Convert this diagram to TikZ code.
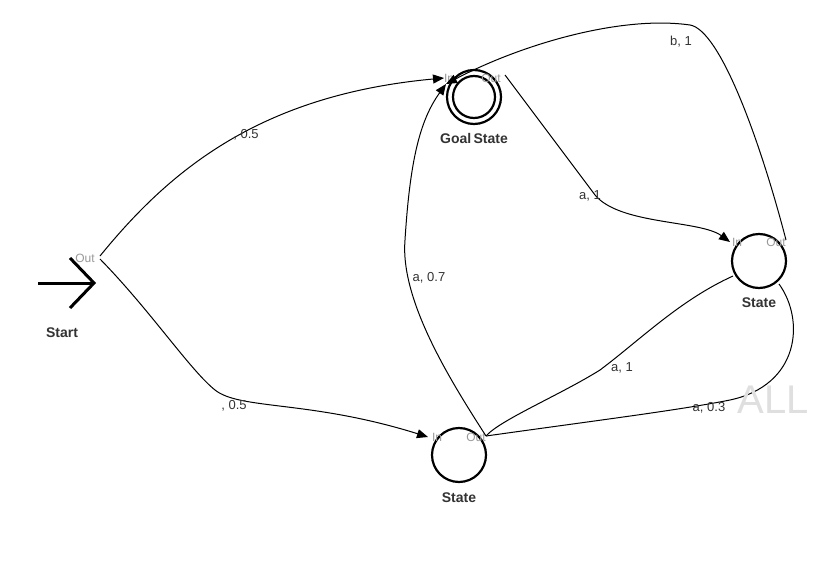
\documentclass[tikz,border=0pt]{standalone}
\usepackage{fontspec}
\setmainfont{Liberation Sans}
\usetikzlibrary{arrows.meta}
\begin{document}
\begin{tikzpicture}[x=1pt,y=-1pt,
  st/.style={circle,draw,line width=2.2pt,minimum size=54pt,inner sep=0pt},
  port/.style={font=\fontsize{12}{12}\selectfont,text=gray!80,inner sep=0pt},
  ttl/.style={font=\bfseries\fontsize{14}{14}\selectfont,text=black!80},
  lbl/.style={font=\fontsize{13}{13}\selectfont,text=black!80,inner sep=1pt},
  ed/.style={draw,line width=1pt},
  ar/.style={ed,-{Triangle[length=11pt,width=9pt]}}]
\useasboundingbox (0,0) rectangle (818,578);
\fill[white] (0,0) rectangle (818,578);
% states
\node[st,minimum size=54pt] (g) at (474,97) {};
\node[circle,draw,line width=2.2pt,minimum size=42pt] (gi) at (474,97) {};
\node[ttl] (gt) at (474,138) {Goal\,State};
\node[st] (r) at (759,261) {};
\node[ttl] (rt) at (759,303) {State};
\node[st] (b) at (459,455) {};
\node[ttl] (bt) at (459,498) {State};
% ports
\node[port] (gin) at (449,78) {In};
\node[port] (gout) at (491,78) {Out};
\node[port] (rin) at (737,242) {In};
\node[port] (rout) at (776,242) {Out};
\node[port] (bin) at (437,437) {In};
\node[port] (bout) at (476,437) {Out};
\node[port] (sout) at (85,258) {Out};
\coordinate (gA) at (444,78);
\coordinate (gB) at (446,84);
\coordinate (s1) at (100,256);
\coordinate (s2) at (100,259);
\coordinate (bA) at (428,437);
\coordinate (bO) at (486,436);
\coordinate (gO) at (505,75);
\coordinate (rA) at (730,242);
\coordinate (rO) at (786,240);
\coordinate (rB) at (733,276);
\coordinate (rC) at (779,284);
% start
\draw[line width=3pt] (38,283) -- (94,283);
\draw[line width=3pt] (70,258) -- (94,283) -- (70,308);
\node[ttl] (st) at (62,333) {Start};
% edges
\draw[ar] (s1) .. controls (170,170) and (260,95) .. (gA);
\node[lbl] at (246,135) {, 0.5};
\draw[ar] (s2) .. controls (150,310) and (190,370) .. (215,390) .. controls (240,410) and (310,400) .. (bA);
\node[lbl] at (234,406) {, 0.5};
\draw[ar] (gO) -- (595,195) .. controls (620,225) and (700,220) .. (rA);
\node[lbl] at (590,196) {a, 1};
\draw[ar] (rO) .. controls (760,140) and (720,30) .. (690,25) .. controls (620,15) and (520,45) .. (gB);
\node[lbl] at (681,42) {b, 1};
\draw[ar] (bO) .. controls (450,380) and (400,300) .. (405,240) .. controls (410,160) and (420,120) .. (gB);
\node[lbl] at (429,278) {a, 0.7};
\draw[ed] (rB) .. controls (680,300) and (640,340) .. (600,370) .. controls (560,395) and (500,420) .. (bO);
\node[lbl] at (622,368) {a, 1};
\draw[ed] (bO) .. controls (600,420) and (680,410) .. (730,400) .. controls (800,385) and (805,320) .. (rC);
\node[lbl] at (709,408) {a, 0.3};
\node[font=\fontsize{40}{40}\selectfont,text=gray!25] (all) at (773,400) {ALL};
\end{tikzpicture}
\end{document}
